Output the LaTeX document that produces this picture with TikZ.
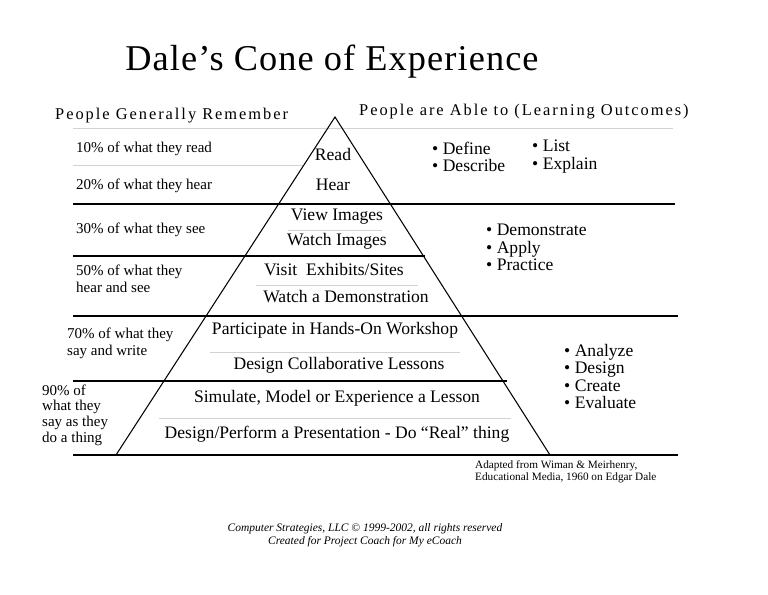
\documentclass[tikz,border=0pt]{standalone}
\usepackage{fontspec}
\setmainfont{Liberation Serif}
\usetikzlibrary{positioning}
\tikzstyle{body} = [font=\fontsize{15}{16}\selectfont, inner sep=0pt]
\tikzstyle{side} = [font=\fontsize{12.8}{14.5}\selectfont, inner sep=0pt, anchor=west, align=left]
\tikzstyle{outcome} = [font=\fontsize{15}{14.8}\selectfont, inner sep=0pt, anchor=north west, align=left]
\tikzstyle{header} = [font=\fontsize{14}{15}\selectfont\addfontfeature{LetterSpace=12}, inner sep=0pt]
\tikzstyle{rule} = [black, line width=0.9pt]
\tikzstyle{thin} = [gray!35, line width=0.6pt]
\tikzstyle{note} = [font=\fontsize{9.6}{10.4}\selectfont, inner sep=0pt, align=left]

\begin{document}
\begin{tikzpicture}[x=0.03cm, y=-0.03cm]
	\useasboundingbox (0,0) rectangle (768,594);
	% title and headers
	\node (title) at (332,62) [font=\fontsize{31}{33}\selectfont\addfontfeature{LetterSpace=3}] {Dale’s Cone of Experience};
	\node (remember) at (55,116) [header, anchor=west] {People Generally Remember};
	\node (able) at (359,112) [header, anchor=west] {People are Able to (Learning Outcomes)};

	% cone corners
	\coordinate (apex) at (335,117);
	\coordinate (left) at (116,455);
	\coordinate (right) at (550,455);

	% horizontal rules
	\coordinate (l128) at (73,128); \coordinate (r128) at (673,128);
	\coordinate (l204) at (73,204); \coordinate (r204) at (675,204);
	\coordinate (l256) at (73,256); \coordinate (r256) at (425,256);
	\coordinate (l316) at (73,316); \coordinate (r316) at (678,316);
	\coordinate (l381) at (73,381); \coordinate (r381) at (507,381);
	\coordinate (l455) at (73,455); \coordinate (r455) at (678,455);
	\draw [thin] (l128) -- (r128);
	\draw [thin] (73,165) -- (304,165);
	\draw [thin] (288,230) -- (382,230);
	\draw [thin] (256,285) -- (418,285);
	\draw [thin] (210,352) -- (460,352);
	\draw [thin] (159,418) -- (511,418);
	\foreach \y in {204,256,316,381,455}
		\draw [rule] (l\y) -- (r\y);
	\draw [rule, line join=miter] (left) -- (apex) -- (right) -- cycle;

	% cone levels
	\node (read) at (333,154) [body] {Read};
	\node (hear) at (333,185) [body] {Hear};
	\node (view) at (337,217) [body] {View Images};
	\node (watch) at (337,241) [body] {Watch Images};
	\node (visit) at (334,270) [body] {Visit\ \ Exhibits/Sites};
	\node (demo) at (346,297) [body] {Watch a Demonstration};
	\node (work) at (335,330) [body] {Participate in Hands-On Workshop};
	\node (collab) at (339,365) [body] {Design Collaborative Lessons};
	\node (sim) at (337,398) [body] {Simulate, Model or Experience a Lesson};
	\node (pres) at (337,434) [body] {Design/Perform a Presentation - Do “Real” thing};

	% remember percentages
	\node (p10) at (76,149) [side] {10\% of what they read};
	\node (p20) at (76,186) [side] {20\% of what they hear};
	\node (p30) at (76,230) [side] {30\% of what they see};
	\node (p50) at (76,279) [side] {50\% of what they\\hear and see};
	\node (p70) at (67,343) [side] {70\% of what they\\say and write};
	\node (p90) at (42,415) [side, font=\fontsize{12.8}{13.3}\selectfont] {90\% of\\what they\\say as they\\do a thing};

	% outcomes
	\node (define) at (432,142) [outcome] {• Define\\• Describe};
	\node (list) at (532,140) [outcome] {• List\\• Explain};
	\node (apply) at (486,224) [outcome] {• Demonstrate\\• Apply\\• Practice};
	\node (analyze) at (564,344) [outcome] {• Analyze\\• Design\\• Create\\• Evaluate};

	% credits
	\node (adapted) at (475,472) [note, anchor=west] {Adapted from Wiman \& Meirhenry,\\Educational Media, 1960 on Edgar Dale};
	\node (footer) at (365,535) [note, align=center, font=\fontsize{9.8}{11}\selectfont\itshape] {Computer Strategies, LLC © 1999-2002, all rights reserved\\Created for Project Coach for My eCoach};
\end{tikzpicture}
\end{document}
